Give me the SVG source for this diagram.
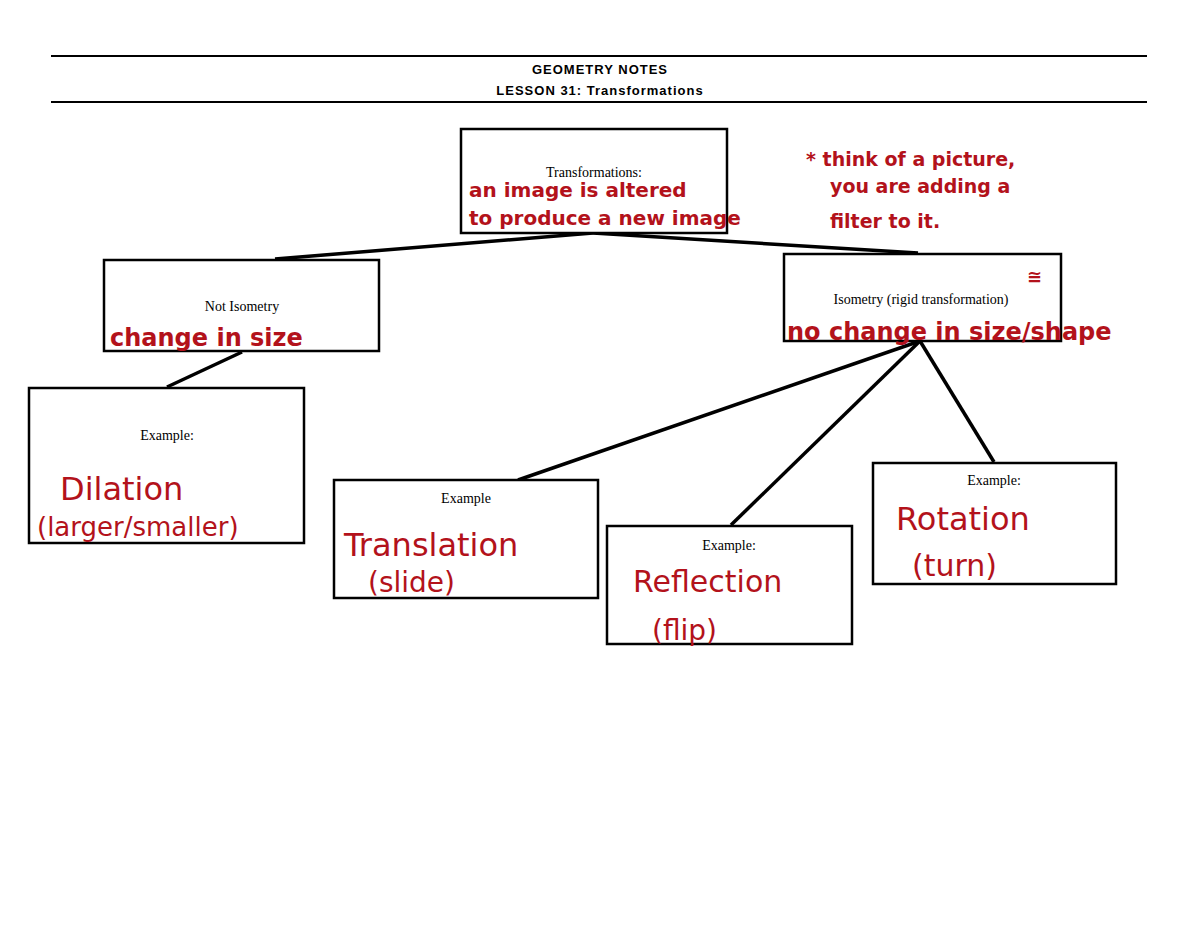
<svg xmlns="http://www.w3.org/2000/svg" width="1200" height="929" viewBox="0 0 1200 929">
<style>
.box{fill:#fff;stroke:#000;stroke-width:2.5}
.t{font-family:"Liberation Serif",serif;font-size:14px;fill:#000;text-anchor:middle}
.h{font-family:"Liberation Sans",sans-serif;font-size:13px;font-weight:bold;fill:#000;text-anchor:middle;letter-spacing:1px}
.r{font-family:"DejaVu Sans",sans-serif;font-weight:bold;fill:#b3121b}
.n{font-weight:normal}
.c line{stroke:#000;stroke-width:3.5}
</style>
<rect width="1200" height="929" fill="#fff"/>
<line x1="51" y1="56" x2="1147" y2="56" stroke="#000" stroke-width="2"/>
<line x1="51" y1="102" x2="1147" y2="102" stroke="#000" stroke-width="2"/>
<text class="h" x="600" y="74">GEOMETRY NOTES</text>
<text class="h" x="600" y="95">LESSON 31: Transformations</text>
<g class="c">
<line x1="593" y1="233" x2="275" y2="259"/>
<line x1="593" y1="233" x2="918" y2="253"/>
<line x1="242" y1="352" x2="167" y2="387"/>
<line x1="920" y1="341" x2="518" y2="480"/>
<line x1="920" y1="341" x2="731" y2="525"/>
<line x1="920" y1="341" x2="994" y2="462"/>
</g>
<g id="transformations"><rect class="box" x="461" y="129" width="266" height="104"/><text class="t" x="594" y="177">Transformations:</text>
<text class="r" x="469" y="197" font-size="20">an image is altered</text><text class="r" x="469" y="225" font-size="20">to produce a new image</text></g>
<g id="note"><text class="r" x="806" y="166" font-size="19">* think of a picture,</text><text class="r" x="830" y="193" font-size="19">you are adding a</text><text class="r" x="830" y="228" font-size="19">filter to it.</text></g>
<g id="notiso"><rect class="box" x="104" y="260" width="275" height="91"/><text class="t" x="242" y="311">Not Isometry</text><text class="r" x="110" y="346" font-size="24">change in size</text></g>
<g id="iso"><rect class="box" x="784" y="254" width="277" height="87"/><text class="t" x="921" y="304">Isometry (rigid transformation)</text><text class="r" x="1027" y="283" font-size="18">≅</text><text class="r" x="787" y="340" font-size="24">no change in size/shape</text></g>
<g id="dilation"><rect class="box" x="29" y="388" width="275" height="155"/><text class="t" x="167" y="440">Example:</text><text class="r n" x="60" y="500" font-size="32">Dilation</text><text class="r n" x="37" y="536" font-size="26">(larger/smaller)</text></g>
<g id="translation"><rect class="box" x="334" y="480" width="264" height="118"/><text class="t" x="466" y="503">Example</text><text class="r n" x="344" y="556" font-size="32">Translation</text><text class="r n" x="368" y="592" font-size="28">(slide)</text></g>
<g id="reflection"><rect class="box" x="607" y="526" width="245" height="118"/><text class="t" x="729" y="550">Example:</text><text class="r n" x="633" y="592" font-size="30">Reflection</text><text class="r n" x="652" y="640" font-size="28">(flip)</text></g>
<g id="rotation"><rect class="box" x="873" y="463" width="243" height="121"/><text class="t" x="994" y="485">Example:</text><text class="r n" x="896" y="530" font-size="32">Rotation</text><text class="r n" x="912" y="576" font-size="30">(turn)</text></g>
</svg>
